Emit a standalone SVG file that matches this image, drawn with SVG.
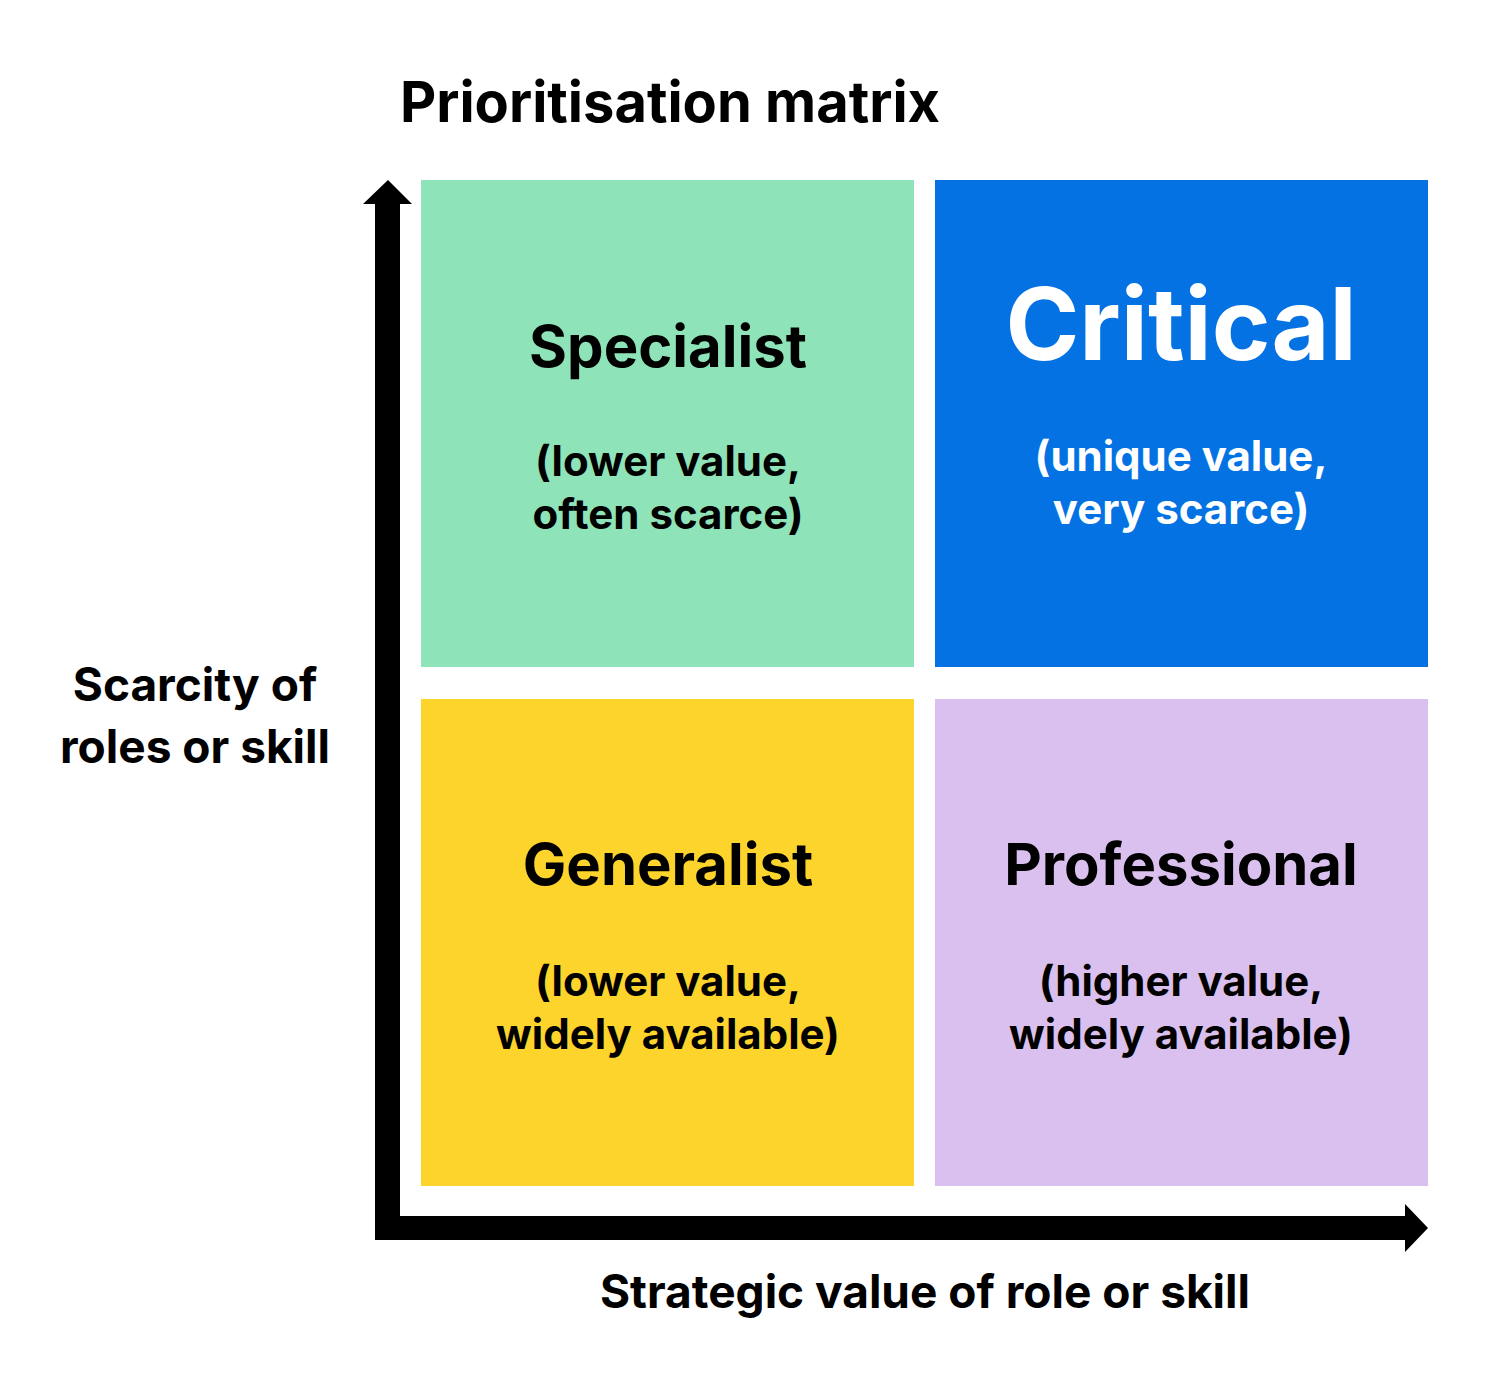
<svg xmlns="http://www.w3.org/2000/svg" width="1500" height="1388" viewBox="0 0 1500 1388">
<style>
text{font-family:Inter,"Liberation Sans",sans-serif;font-weight:700;text-anchor:middle;fill:#000}
.h{font-size:58px}
.s{font-size:42px}
.w{fill:#fff}
</style>
<rect width="1500" height="1388" fill="#fff"/>
<text x="670" y="122" class="h" style="font-size:56px">Prioritisation matrix</text>
<g id="specialist"><rect x="421" y="180" width="493" height="487" fill="#8ee4b8"/>
<text x="668" y="367" class="h">Specialist</text>
<text x="668" y="476" class="s">(lower value,</text><text x="668" y="529" class="s">often scarce)</text></g>
<g id="critical"><rect x="935" y="180" width="493" height="487" fill="#0472e3"/>
<text x="1181" y="360" class="w" style="font-size:100px">Critical</text>
<text x="1181" y="471" class="s w">(unique value,</text><text x="1181" y="524" class="s w">very scarce)</text></g>
<g id="generalist"><rect x="421" y="699" width="493" height="487" fill="#fcd42c"/>
<text x="668" y="885" class="h">Generalist</text>
<text x="668" y="996" class="s">(lower value,</text><text x="668" y="1049" class="s">widely available)</text></g>
<g id="professional"><rect x="935" y="699" width="493" height="487" fill="#dac0ee"/>
<text x="1181" y="885" class="h">Professional</text>
<text x="1181" y="996" class="s">(higher value,</text><text x="1181" y="1049" class="s">widely available)</text></g>
<g id="axes">
<path d="M375 204H363L388 180L412 204H400V1216H1405V1204L1428 1228L1405 1252V1240H375Z" fill="#000"/>
</g>
<text x="195" y="701" class="s" style="font-size:46px">Scarcity of</text>
<text x="195" y="763" class="s" style="font-size:46px">roles or skill</text>
<text x="925" y="1308" class="s" style="font-size:46px">Strategic value of role or skill</text>
</svg>
